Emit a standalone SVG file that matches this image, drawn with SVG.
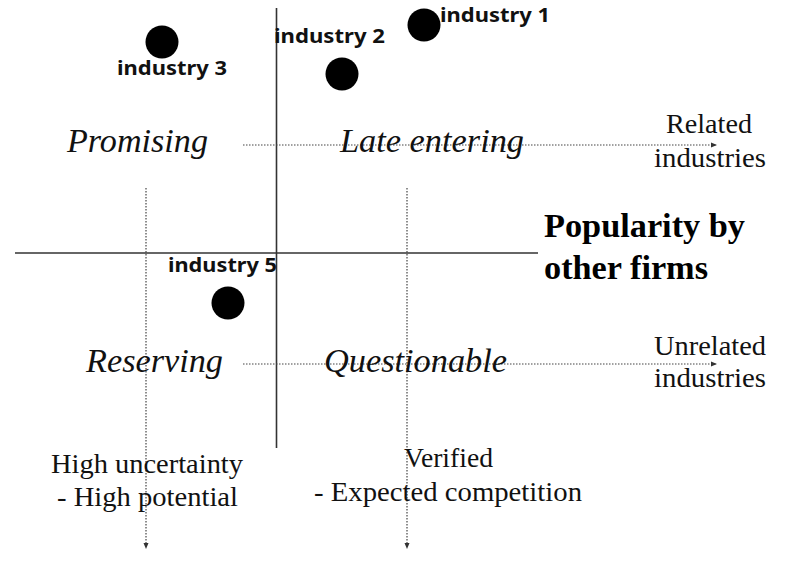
<svg xmlns="http://www.w3.org/2000/svg" width="786" height="562" viewBox="0 0 786 562">
<style>
.dot{fill:#000}
.lbl{font-family:"Noto Sans","Open Sans","DejaVu Sans",sans-serif;font-weight:bold;font-size:20px;fill:#111}
.quad{font-family:"Times New Roman","Liberation Serif",serif;font-style:italic;font-size:34px;fill:#111}
.note{font-family:"Times New Roman","Liberation Serif",serif;font-size:28px;fill:#111}
.axisT{font-family:"Times New Roman","Liberation Serif",serif;font-weight:bold;font-size:34px;fill:#000}
.axis{stroke:#333;stroke-width:1.6;fill:none}
.dash{stroke:#444;stroke-width:1.2;stroke-dasharray:1.5 1.5;fill:none}
</style>
<defs>
<marker id="ah" viewBox="0 0 6 6" refX="5" refY="3" markerWidth="6" markerHeight="6" markerUnits="userSpaceOnUse" orient="auto">
<path d="M0,0.5 L6,3 L0,5.5 Z" fill="#333"/>
</marker>
</defs>
<rect width="786" height="562" fill="#fff"/>
<g id="axes">
<line class="axis" x1="276.5" y1="8" x2="276.5" y2="448"/>
<line class="axis" x1="15" y1="253" x2="538" y2="253"/>
</g>
<g id="connectors">
<line class="dash" x1="243" y1="145" x2="716" y2="145" marker-end="url(#ah)"/>
<line class="dash" x1="243" y1="364" x2="716" y2="364" marker-end="url(#ah)"/>
<line class="dash" x1="146" y1="188" x2="146" y2="548" marker-end="url(#ah)"/>
<line class="dash" x1="407" y1="188" x2="407" y2="548" marker-end="url(#ah)"/>
</g>
<g id="industry3">
<circle class="dot" cx="162" cy="42" r="16.5"/>
<text class="lbl" x="117" y="75" textLength="110" lengthAdjust="spacingAndGlyphs">industry 3</text>
</g>
<g id="industry2">
<circle class="dot" cx="342" cy="74" r="16.5"/>
<text class="lbl" x="274" y="43" textLength="111" lengthAdjust="spacingAndGlyphs">industry 2</text>
</g>
<g id="industry1">
<circle class="dot" cx="424" cy="25" r="16.5"/>
<text class="lbl" x="440" y="22" textLength="110" lengthAdjust="spacingAndGlyphs">industry 1</text>
</g>
<g id="industry5">
<circle class="dot" cx="228" cy="303" r="16.5"/>
<text class="lbl" x="168" y="272" textLength="109" lengthAdjust="spacingAndGlyphs">industry 5</text>
</g>
<g id="quad-promising"><text class="quad" x="67" y="152" textLength="141" lengthAdjust="spacingAndGlyphs">Promising</text></g>
<g id="quad-late"><text class="quad" x="340" y="152" textLength="184" lengthAdjust="spacingAndGlyphs">Late entering</text></g>
<g id="quad-reserving"><text class="quad" x="86" y="372" textLength="137" lengthAdjust="spacingAndGlyphs">Reserving</text></g>
<g id="quad-questionable"><text class="quad" x="324" y="372" textLength="183" lengthAdjust="spacingAndGlyphs">Questionable</text></g>
<g id="axis-label">
<text class="axisT" x="544" y="237" textLength="201" lengthAdjust="spacingAndGlyphs">Popularity by</text>
<text class="axisT" x="544" y="279" textLength="164" lengthAdjust="spacingAndGlyphs">other firms</text>
</g>
<g id="related">
<text class="note" x="666" y="133" textLength="86" lengthAdjust="spacingAndGlyphs">Related</text>
<text class="note" x="654" y="167" textLength="112" lengthAdjust="spacingAndGlyphs">industries</text>
</g>
<g id="unrelated">
<text class="note" x="654" y="355" textLength="112" lengthAdjust="spacingAndGlyphs">Unrelated</text>
<text class="note" x="654" y="387" textLength="112" lengthAdjust="spacingAndGlyphs">industries</text>
</g>
<g id="high-uncertainty">
<text class="note" x="51" y="473" textLength="192" lengthAdjust="spacingAndGlyphs">High uncertainty</text>
<text class="note" x="57" y="506" textLength="181" lengthAdjust="spacingAndGlyphs">- High potential</text>
</g>
<g id="verified">
<text class="note" x="404" y="467" textLength="89" lengthAdjust="spacingAndGlyphs">Verified</text>
<text class="note" x="314" y="501" textLength="268" lengthAdjust="spacingAndGlyphs">- Expected competition</text>
</g>
</svg>
